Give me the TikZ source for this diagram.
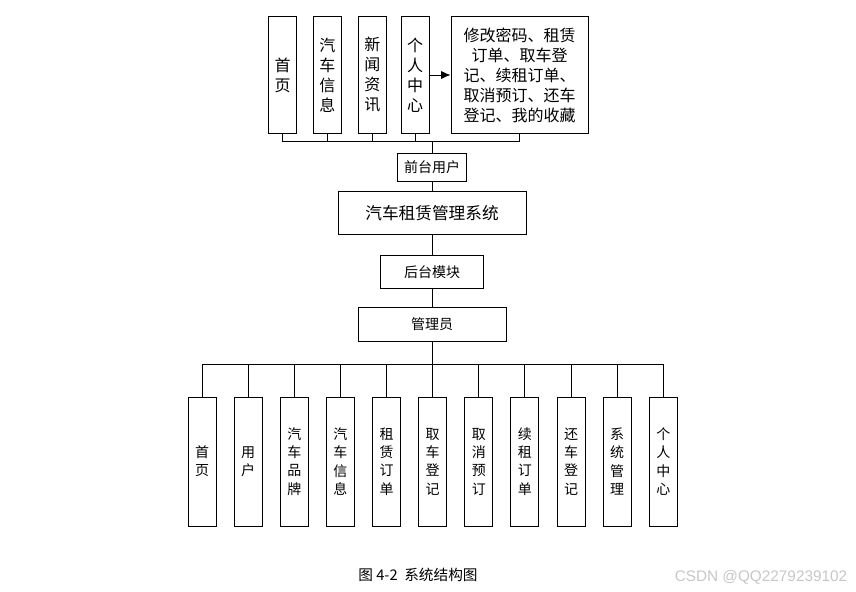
\documentclass[tikz,border=0pt]{standalone}
\usepackage{fontspec}
\setmainfont{Noto Sans CJK SC}
\newfontfamily\markfont{Liberation Sans}
\usetikzlibrary{arrows, arrows.meta, positioning}

\begin{document}
\begin{tikzpicture}[x=0.75pt, y=-0.75pt, line width=0.7pt,
        tallbox/.style={draw, rectangle, minimum width=21pt, minimum height=87.75pt, inner sep=0pt, align=center, font=\fontsize{12}{15}\selectfont},
        lowbox/.style={draw, rectangle, minimum width=21pt, minimum height=96.75pt, inner sep=0pt, align=center, font=\fontsize{10.5}{13.75}\selectfont},
        midbox/.style={draw, rectangle, minimum height=25pt, inner sep=0pt, font=\fontsize{10.5}{13}\selectfont}]
        \useasboundingbox (0,0) rectangle (856,592);

        % Front end
        \node (home) [tallbox] at (282.5,75) {首\\页};
        \node (carinfo) [tallbox, right=12pt of home] {汽\\车\\信\\息};
        \node (news) [tallbox, right=12pt of carinfo] {新\\闻\\资\\讯};
        \node (center) [tallbox, right=10.3pt of news] {个\\人\\中\\心};
        \node (detail) [draw, rectangle, minimum width=102.75pt, minimum height=87.75pt, inner sep=0pt, align=center, font=\fontsize{12}{15}\selectfont, right=15.8pt of center]
            {修改密码、租赁\\订单、取车登\\记、续租订单、\\取消预订、还车\\登记、我的收藏};
        \draw[-{Latex[length=7pt,width=6pt]}] (center) -- (detail);

        % Middle column
        \node (front) [midbox, minimum width=52pt, minimum height=21pt] at (432,167) {前台用户};
        \node (system) [midbox, minimum width=141pt, minimum height=32pt, font=\fontsize{12.5}{15}\selectfont, below=7.5pt of front] {汽车租赁管理系统};
        \node (backend) [midbox, minimum width=77pt, below=15pt of system] {后台模块};
        \node (admin) [midbox, minimum width=111pt, below=13.5pt of backend] {管理员};
        \draw (front) -- (system);
        \draw (system) -- (backend);
        \draw (backend) -- (admin);

        % Upper bus
        \coordinate (upbus) at (432,141);
        \draw (home.south) |- (upbus);
        \draw (carinfo.south) |- (upbus);
        \draw (news.south) |- (upbus);
        \draw (center.south) |- (upbus);
        \draw (detail.south) |- (upbus);
        \draw (upbus) -- (front.north);

        % Back end
        \node (bhome) [lowbox] at (202,461.5) {首\\页};
        \node (buser) [lowbox, right=12.9pt of bhome] {用\\户};
        \node (bbrand) [lowbox, right=12.9pt of buser] {汽\\车\\品\\牌};
        \node (binfo) [lowbox, right=12.9pt of bbrand] {汽\\车\\信\\息};
        \node (brent) [lowbox, right=12.9pt of binfo] {租\\赁\\订\\单};
        \node (bpick) [lowbox, right=12.9pt of brent] {取\\车\\登\\记};
        \node (bcancel) [lowbox, right=12.9pt of bpick] {取\\消\\预\\订};
        \node (brenew) [lowbox, right=12.9pt of bcancel] {续\\租\\订\\单};
        \node (breturn) [lowbox, right=12.9pt of brenew] {还\\车\\登\\记};
        \node (bsys) [lowbox, right=12.9pt of breturn] {系\\统\\管\\理};
        \node (bcenter) [lowbox, right=12.9pt of bsys] {个\\人\\中\\心};

        % Lower bus
        \coordinate (lowbus) at (432,364);
        \draw (admin.south) -- (lowbus);
        \draw (lowbus) -| (bhome.north);
        \draw (lowbus) -| (buser.north);
        \draw (lowbus) -| (bbrand.north);
        \draw (lowbus) -| (binfo.north);
        \draw (lowbus) -| (brent.north);
        \draw (lowbus) -| (bpick.north);
        \draw (lowbus) -| (bcancel.north);
        \draw (lowbus) -| (brenew.north);
        \draw (lowbus) -| (breturn.north);
        \draw (lowbus) -| (bsys.north);
        \draw (lowbus) -| (bcenter.north);

        % Caption
        \node (caption) at (418,575) [font=\fontsize{11}{13}\selectfont] {图 4-2\ \ 系统结构图};
        \node (mark) at (761,577) [font=\markfont\fontsize{11.5}{13}\selectfont, text=black!22] {CSDN @QQ2279239102};
\end{tikzpicture}
\end{document}
